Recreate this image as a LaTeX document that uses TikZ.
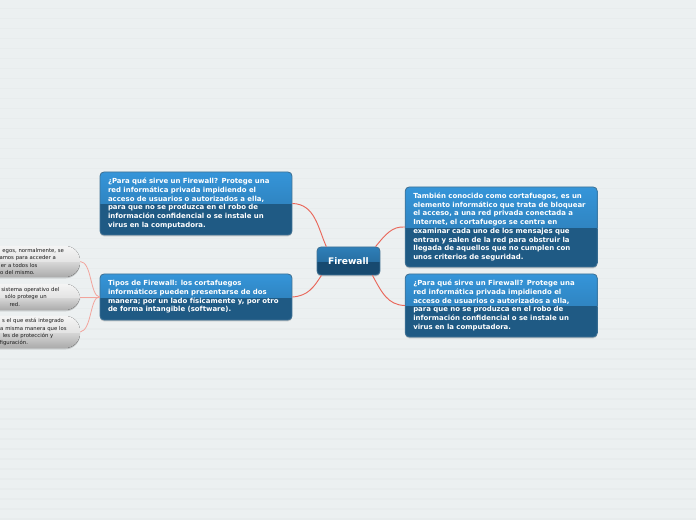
\documentclass[tikz,border=0pt]{standalone}
\usepackage{fontspec}
\setmainfont{DejaVu Sans}
\usetikzlibrary{calc, shadows}
\definecolor{pagebg}{HTML}{ECF0F1}
\definecolor{pagestripe}{HTML}{E8ECED}
\definecolor{linkred}{HTML}{E9675A}
\newcommand{\cutline}[2]{\makebox[#1pt][r]{#2}}

\tikzset{
	twotone/.style n args={4}{
		path picture={
			\fill[sharp corners, top color=#1, bottom color=#2] (path picture bounding box.north west) rectangle ($(path picture bounding box.east)+(0,-1.1pt)$);
			\fill[sharp corners, top color=#3, bottom color=#4] (path picture bounding box.south west) rectangle ($(path picture bounding box.east)+(0,-1.1pt)$);
		}},
	boxshadow/.style={drop shadow={shadow xshift=0pt, shadow yshift=-1pt, opacity=.25, fill=black!70}},
	topic/.style={draw=blue3!85!white, line width=.6pt, rounded corners=3pt, inner xsep=6pt, inner ysep=0pt,
		boxshadow, twotone={blue1}{blue2}{blue3}{blue3},
		minimum width=144pt, text width=132pt, align=left, text=white,
		font=\fontsize{5.22pt}{6.55pt}\selectfont\bfseries},
	leaf/.style={draw=none, rounded corners=11pt, inner xsep=0pt, inner ysep=0pt,
		boxshadow, twotone={gray0}{gray1}{gray1}{gray3},
		minimum width=120pt, text width=120pt, align=left, text=black!90,
		font=\fontsize{4pt}{5.3pt}\selectfont},
	link/.style={draw=linkred, line width=.7pt},
	leaflink/.style={draw=linkred!60!white, line width=.6pt},
}
\definecolor{blue1}{HTML}{3595D9}
\definecolor{blue2}{HTML}{2A75AB}
\definecolor{blue3}{HTML}{1F5A84}
\definecolor{gray0}{HTML}{F4F4F4}
\definecolor{gray1}{HTML}{D4D4D4}
\definecolor{gray3}{HTML}{ABABAB}
\definecolor{rootblue1}{HTML}{2F7FB8}
\definecolor{rootblue2}{HTML}{20608F}
\definecolor{rootblue3}{HTML}{174A70}

\begin{document}
\begin{tikzpicture}[x=.75pt, y=-.75pt]

%========================
% Page
%========================
\clip (0,0) rectangle (696,520);
\fill[pagebg] (0,0) rectangle (696,520);
\foreach \y in {8,18,...,518}
	\fill[pagestripe] (0,\y) rectangle (696,\y+1.5);

%========================
% Central topic
%========================
\node[topic, twotone={rootblue1}{rootblue2}{rootblue3}{rootblue3}, minimum width=47.25pt, text width=35pt,
	minimum height=21pt, align=center, font=\fontsize{6.8pt}{8pt}\selectfont\bfseries]
	(root) at (348.5,261) {Firewall};

%========================
% Main topics
%========================
\node[topic, minimum height=47.25pt] (purposeL) at (196,203.5) {¿Para qué sirve un Firewall? Protege una\\
	red informática privada impidiendo el\\
	acceso de usuarios o autorizados a ella,\\
	para que no se produzca en el robo de\\
	información confidencial o se instale un\\
	virus en la computadora.};
\node[topic, minimum height=34.5pt] (types) at (196,297) {Tipos de Firewall: los cortafuegos\\
	informáticos pueden presentarse de dos\\
	manera; por un lado físicamente y, por otro\\
	de forma intangible (software).};
\node[topic, minimum height=60pt] (about) at (501.25,227) {También conocido como cortafuegos, es un\\
	elemento informático que trata de bloquear\\
	el acceso, a una red privada conectada a\\
	Internet, el cortafuegos se centra en\\
	examinar cada uno de los mensajes que\\
	entran y salen de la red para obstruir la\\
	llegada de aquellos que no cumplen con\\
	unos criterios de seguridad.};
\node[topic, minimum height=47.25pt] (purposeR) at (501.25,305.5) {¿Para qué sirve un Firewall? Protege una\\
	red informática privada impidiendo el\\
	acceso de usuarios o autorizados a ella,\\
	para que no se produzca en el robo de\\
	información confidencial o se instale un\\
	virus en la computadora.};

%========================
% Subtopics, cut by the page edge
%========================
\node[leaf, minimum height=23.25pt] (leafA) at (0,261.5) {%
	\cutline{108}{egos, normalmente, se}\\
	\cutline{102}{amos para acceder a}\\
	\cutline{88}{er a todos los}\\
	\cutline{86}{o del mismo.}};
\node[leaf, minimum height=19.5pt] (leafB) at (0,297) {%
	\cutline{104.5}{sistema operativo del}\\
	\cutline{95}{sólo protege un}\\
	\cutline{75}{red.}};
\node[leaf, minimum height=24pt] (leafC) at (0,332) {%
	\cutline{108}{s el que está integrado}\\
	\cutline{110}{a misma manera que los}\\
	\cutline{100}{les de protección y}\\
	\cutline{81}{figuración.}};

%========================
% Links
%========================
\draw[link] (root.147) .. controls (318,228) and (315,204) .. (purposeL.east);
\draw[link] (root.208) .. controls (314,287) and (308,296) .. (types.east);
\draw[link] (root.28) .. controls (385,235) and (392,226) .. (about.west);
\draw[link] (root.-31) .. controls (382,293) and (388,305) .. (purposeR.west);
\draw[leaflink] (types.west) .. controls (90,296) and (92,262) .. (leafA.east);
\draw[leaflink] (types.west) -- (leafB.east);
\draw[leaflink] (types.west) .. controls (90,296) and (92,330) .. (leafC.east);

\end{tikzpicture}
\end{document}
